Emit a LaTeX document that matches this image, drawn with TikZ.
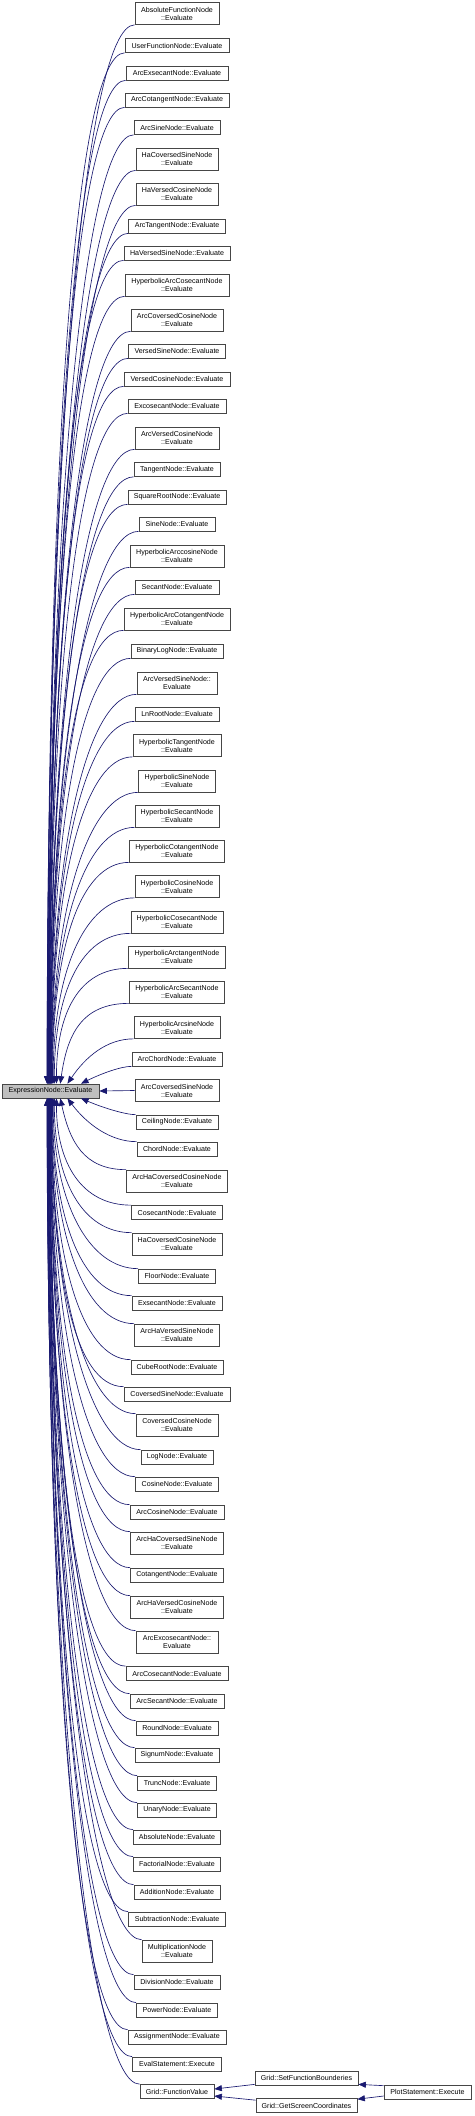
\documentclass[tikz,border=0pt]{standalone}
\usepackage{fontspec}
\setmainfont{Liberation Sans}
\usetikzlibrary{arrows.meta,calc}
\definecolor{edgeblue}{RGB}{25,25,112}
\definecolor{boxline}{RGB}{70,70,70}
\definecolor{exprfill}{RGB}{191,191,191}
\tikzset{
  fnbox/.style={draw=boxline,line width=0.7pt,fill=white,inner xsep=0pt,inner ysep=0pt,
    align=center,font=\fontsize{7.1}{8}\selectfont},
  calledge/.style={draw=edgeblue,line width=0.65pt,-{Triangle[length=7.5pt,width=6pt]}}
}
\begin{document}
\begin{tikzpicture}[x=1pt,y=-1pt]
\useasboundingbox (0,0) rectangle (474,2116);
\fill[white] (0,0) rectangle (474,2116);
% central node
\node[fnbox,fill=exprfill,minimum width=97,minimum height=14] (expr) at (50.5,1091) {ExpressionNode::Evaluate};
% upper callers
\foreach \i/\yy/\w/\h/\t in {
1/13.5/84/22/{AbsoluteFunctionNode\\::Evaluate},
2/45.5/104/14/{UserFunctionNode::Evaluate},
3/73/102/14/{ArcExsecantNode::Evaluate},
4/100/104/14/{ArcCotangentNode::Evaluate},
5/127.5/86/14/{ArcSineNode::Evaluate},
6/159/82/22/{HaCoversedSineNode\\::Evaluate},
7/194/82/22/{HaVersedCosineNode\\::Evaluate},
8/226/97/14/{ArcTangentNode::Evaluate},
9/253/106/14/{HaVersedSineNode::Evaluate},
10/285/104/22/{HyperbolicArcCosecantNode\\::Evaluate},
11/320/92/22/{ArcCoversedCosineNode\\::Evaluate},
12/351/97/14/{VersedSineNode::Evaluate},
13/379/106/14/{VersedCosineNode::Evaluate},
14/406/98/14/{ExcosecantNode::Evaluate},
15/438/84/22/{ArcVersedCosineNode\\::Evaluate},
16/469.5/86/14/{TangentNode::Evaluate},
17/497/98/14/{SquareRootNode::Evaluate},
18/524/76/14/{SineNode::Evaluate},
19/556/94/22/{HyperbolicArccosineNode\\::Evaluate},
20/587/84/14/{SecantNode::Evaluate},
21/619/106/22/{HyperbolicArcCotangentNode\\::Evaluate},
22/651/92/14/{BinaryLogNode::Evaluate},
23/683/80/22/{ArcVersedSineNode::\\Evaluate},
24/714/84/14/{LnRootNode::Evaluate},
25/745.5/88/22/{HyperbolicTangentNode\\::Evaluate},
26/781/77/22/{HyperbolicSineNode\\::Evaluate},
27/816/84/22/{HyperbolicSecantNode\\::Evaluate},
28/851/95/22/{HyperbolicCotangentNode\\::Evaluate},
29/886.5/84/22/{HyperbolicCosineNode\\::Evaluate},
30/922/92/22/{HyperbolicCosecantNode\\::Evaluate},
31/957/97/22/{HyperbolicArctangentNode\\::Evaluate},
32/992/95/22/{HyperbolicArcSecantNode\\::Evaluate},
33/1027.5/86/22/{HyperbolicArcsineNode\\::Evaluate},
34/1059/90/14/{ArcChordNode::Evaluate}}
  \node[fnbox,minimum width=\w,minimum height=\h] (u\i) at (177,\yy) {\t};
% middle caller
\node[fnbox,minimum width=84,minimum height=22] (mid) at (177,1090.5) {ArcCoversedSineNode\\::Evaluate};
% lower callers
\foreach \i/\yy/\w/\h/\t in {
1/1122/82/14/{CeilingNode::Evaluate},
2/1149/80/14/{ChordNode::Evaluate},
3/1181/101/22/{ArcHaCoversedCosineNode\\::Evaluate},
4/1212.5/91/14/{CosecantNode::Evaluate},
5/1244/90/22/{HaCoversedCosineNode\\::Evaluate},
6/1276/77/14/{FloorNode::Evaluate},
7/1303/90/14/{ExsecantNode::Evaluate},
8/1335/85/22/{ArcHaVersedSineNode\\::Evaluate},
9/1367/92/14/{CubeRootNode::Evaluate},
10/1394/106/14/{CoversedSineNode::Evaluate},
11/1425/82/22/{CoversedCosineNode\\::Evaluate},
12/1457/72/14/{LogNode::Evaluate},
13/1484/83/14/{CosineNode::Evaluate},
14/1512/94/14/{ArcCosineNode::Evaluate},
15/1543/93/22/{ArcHaCoversedSineNode\\::Evaluate},
16/1575/93/14/{CotangentNode::Evaluate},
17/1607/93/22/{ArcHaVersedCosineNode\\::Evaluate},
18/1642/82/22/{ArcExcosecantNode::\\Evaluate},
19/1673.5/102/14/{ArcCosecantNode::Evaluate},
20/1701/94/14/{ArcSecantNode::Evaluate},
21/1728/82/14/{RoundNode::Evaluate},
22/1755/84/14/{SignumNode::Evaluate},
23/1783/79/14/{TruncNode::Evaluate},
24/1810/79/14/{UnaryNode::Evaluate},
25/1837/87/14/{AbsoluteNode::Evaluate},
26/1864/87/14/{FactorialNode::Evaluate},
27/1892/86/14/{AdditionNode::Evaluate},
28/1919/97/14/{SubtractionNode::Evaluate},
29/1951/70/22/{MultiplicationNode\\::Evaluate},
30/1982/86/14/{DivisionNode::Evaluate},
31/2010/81/14/{PowerNode::Evaluate},
32/2037/98/14/{AssignmentNode::Evaluate},
33/2064/89/14/{EvalStatement::Execute},
34/2091.5/74/14/{Grid::FunctionValue}}
  \node[fnbox,minimum width=\w,minimum height=\h] (l\i) at (177,\yy) {\t};
% right part
\node[fnbox,minimum width=103,minimum height=14] (sfb) at (306.5,2078) {Grid::SetFunctionBounderies};
\node[fnbox,minimum width=101,minimum height=14] (gsc) at (306.5,2105.5) {Grid::GetScreenCoordinates};
\node[fnbox,minimum width=87,minimum height=14] (plot) at (427.5,2092) {PlotStatement::Execute};
% edges from upper callers
\foreach \i [evaluate=\i as \r using int(35-\i)] in {1,...,34}
  \draw[calledge] let \p1=(u\i.south west), \p2=(expr.north),
    \n1={\y1-\y2}, \n2={min(50,0.6*\n1)}, \n3={max(0,0.5-\n1/200)},
    \n4={47+6*(1-(\r-1)/33)+28*exp(-0.65*(\r-1))}
    in (\p1) .. controls ({\x1-\n2},\y1) and ({\n4*1pt+(\x1-\n4*1pt)*\n3},{\y2+0.6*\n1}) .. ({\n4*1pt},\y2);
% edges from lower callers
\foreach \i in {1,...,34}
  \draw[calledge] let \p1=(l\i.north west), \p2=(expr.south),
    \n1={\y2-\y1}, \n2={min(50,0.6*\n1)}, \n3={max(0,0.5-\n1/200)},
    \n4={47+6*(1-(\i-1)/33)+28*exp(-0.65*(\i-1))}
    in (\p1) .. controls ({\x1-\n2},\y1) and ({\n4*1pt+(\x1-\n4*1pt)*\n3},{\y2-0.6*\n1}) .. ({\n4*1pt},\y2);
\draw[calledge] (mid.west) -- (expr.east);
\draw[calledge] ([yshift=1pt]sfb.south west) -- ([yshift=2.5pt]l34.east);
\draw[calledge] ([yshift=-2pt]gsc.north west) -- ([yshift=-4.5pt]l34.east);
\draw[calledge] ([yshift=-1pt]plot.north west) -- ([yshift=1pt]sfb.south east);
\draw[calledge] ([yshift=-4pt]plot.west) -- ([yshift=-1pt]gsc.north east);
\end{tikzpicture}
\end{document}
